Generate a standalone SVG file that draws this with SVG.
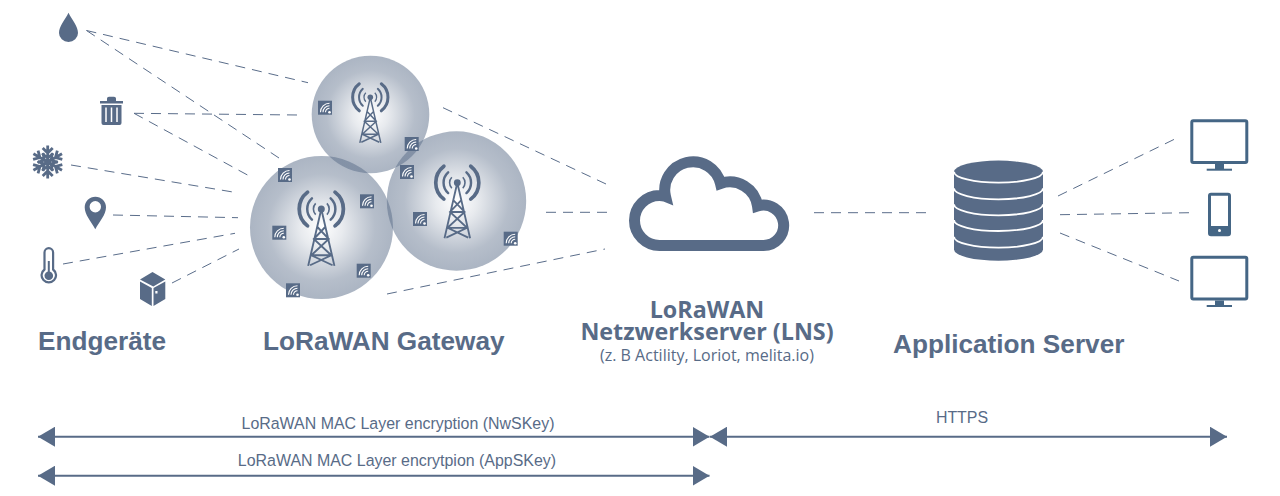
<svg xmlns="http://www.w3.org/2000/svg" xmlns:xlink="http://www.w3.org/1999/xlink" width="1280" height="496" viewBox="0 0 1280 496">
<style>
.c{fill:none;stroke:#5a6d8a;stroke-width:1;stroke-dasharray:10 7}
.i{fill:#586b87}
.m{fill:none;stroke:#456685;stroke-width:3;stroke-linejoin:round}
.m2{fill:#456685}
.h{font:bold 26.2px "Liberation Sans",Arial,sans-serif;fill:#586b87}
.l{font:bold 23.300px "Open Sans","Noto Sans",sans-serif;fill:#586b87;text-anchor:middle}
.s{font:16px "Open Sans","Noto Sans",sans-serif;fill:#586b87;text-anchor:middle}
.t{font:15.950px "Liberation Sans",Arial,sans-serif;fill:#586b87;text-anchor:middle}
.a{stroke:#586b87;stroke-width:2;fill:none}
.w{fill:none;stroke:#fff;stroke-width:1.1}
.gw{fill:url(#g)}
</style>
<defs>
<radialGradient id="g" cx="50%" cy="50%" r="50%">
<stop offset="0" stop-color="#586b87" stop-opacity="0"/>
<stop offset=".3" stop-color="#586b87" stop-opacity=".14"/>
<stop offset=".75" stop-color="#586b87" stop-opacity=".44"/>
<stop offset="1" stop-color="#586b87" stop-opacity=".5"/>
</radialGradient>
<symbol id="tower" overflow="visible">
<g fill="none" stroke="#586b87">
<path stroke-width="1.500" d="M0 0 L-10.500 45.500 M0 0 L10.500 45.500 M-3.500 14 L6 24 L-8 37 L9 45 M3.500 14 L-6 24 L8 37 L-9 45 M-6 24 H6 M-8 37 H8"/>
<path stroke-width="1.300" d="M-4.500 -4.500 A6.500 6.500 0 0 0 -4.500 4.500 M4.500 -4.500 A6.500 6.500 0 0 1 4.500 4.500"/>
<path stroke-width="2" stroke-linecap="round" d="M-7.500 -8.500 A11.500 11.500 0 0 0 -7.500 8.500 M7.500 -8.500 A11.500 11.500 0 0 1 7.500 8.500"/>
<path stroke-width="3" stroke-linecap="round" d="M-11 -13.500 A17 17 0 0 0 -11 13.500 M11 -13.500 A17 17 0 0 1 11 13.500"/>
<circle r="2.800" fill="#586b87" stroke="none"/>
</g>
</symbol>
<g id="wifi">
<rect x="-7" y="-7" width="14" height="14" fill="#586b87"/>
<circle cx="4.500" cy="4.500" r="1.300" fill="#fff"/>
<path class="w" d="M0.500 4.500 A4 4 0 0 1 4.500 0.500 M-2 4.500 A6.500 6.500 0 0 1 4.500 -2 M-4.500 4.500 A9 9 0 0 1 4.500 -4.500"/>
</g>
<marker id="ah" markerWidth="18" markerHeight="20" refX="17" refY="10" orient="auto-start-reverse" markerUnits="userSpaceOnUse">
<path d="M0 0 L17 10 L0 20 Z" fill="#586b87"/>
</marker>
</defs>

<g id="connectors">
<path class="c" d="M86.500 30.500 L308 82.700"/>
<path class="c" d="M86.500 30.500 L279 158"/>
<path class="c" d="M134 113.300 L298 115"/>
<path class="c" d="M134 113.300 L253 178"/>
<path class="c" d="M71 165 L237 192.700"/>
<path class="c" d="M113 215 L238 217.700"/>
<path class="c" d="M63 264 L235 233.300"/>
<path class="c" d="M172 283 L239 249"/>
<path class="c" d="M443 107.700 L606 184"/>
<path class="c" d="M546 212.300 L607 212.300"/>
<path class="c" d="M387 294 L605 249"/>
<path class="c" d="M814 212.700 L932 212.700"/>
<path class="c" d="M1058 196 L1179 137"/>
<path class="c" d="M1060 214.700 L1191 212.700"/>
<path class="c" d="M1060 233 L1179 281"/>
</g>

<g id="drop"><path class="i" d="M68.500 12.700 C72 20 78 26 78 33 A9.500 9 0 0 1 59 33 C59 26 65 20 68.500 12.700Z"/></g>
<g id="trash"><path class="i" d="M100 101 H107 V98.500 Q107 96.700 109 96.700 H114 Q116 96.700 116 98.500 V101 H123 V103.500 H100Z M101.500 105 H121.500 V123 Q121.500 125 119.500 125 H103.500 Q101.500 125 101.500 123Z"/><path d="M106 107.500 V122 M111.500 107.500 V122 M117 107.500 V122" stroke="#fff" stroke-width="1.500"/></g>
<g id="snowflake" fill="none" stroke="#586b87" stroke-width="2.800" transform="translate(47.700 162)">
<g id="arm"><path d="M0 0 V-16.500 M-5 -14 L0 -9 L5 -14 M-5.500 -8.500 L0 -4 L5.500 -8.500"/></g>
<use href="#arm" transform="rotate(60)"/><use href="#arm" transform="rotate(120)"/><use href="#arm" transform="rotate(180)"/><use href="#arm" transform="rotate(240)"/><use href="#arm" transform="rotate(300)"/>
<circle r="3.500" fill="#586b87" stroke="none"/>
</g>
<g id="pin"><path class="i" fill-rule="evenodd" d="M95.300 229.300 C91 221 84.700 215 84.700 207.300 A10.650 10.650 0 0 1 106 207.300 C106 215 99.600 221 95.300 229.300Z M101 206.700 A5.700 5.700 0 1 0 89.600 206.700 A5.700 5.700 0 1 0 101 206.700Z"/></g>
<g id="thermometer"><path fill="none" stroke="#586b87" stroke-width="2.200" d="M44.500 269.500 V252.500 A4.300 4.300 0 0 1 53.100 252.500 V269.500 A7.200 7.200 0 1 1 44.500 269.500Z"/><circle class="i" cx="48.800" cy="275.700" r="4.300"/><rect class="i" x="47.800" y="261" width="2" height="12"/></g>
<g id="box"><path class="i" d="M152.500 272 L165.300 279.500 L153.300 286.500 L140 279.500Z M140 281.500 L151.800 288 V306 L140 299Z M153.500 288 L165.300 281.500 V299 L153.500 306Z"/><rect x="155.300" y="291" width="2.200" height="2.500" fill="#fff"/></g>

<g id="gateway-top"><circle class="gw" cx="370.500" cy="114.500" r="58.800"/><use href="#tower" x="370.300" y="97.300"/></g>
<g id="gateway-right"><circle class="gw" cx="456.500" cy="201" r="69.700"/><use href="#tower" transform="translate(457.300 182.700) scale(1.22)"/></g>
<g id="gateway-left"><circle class="gw" cx="321.500" cy="227.500" r="71.500"/><use href="#tower" transform="translate(321.300 209) scale(1.25)"/></g>
<g id="wifi-squares">
<use href="#wifi" x="325" y="107.700"/><use href="#wifi" x="411.700" y="144"/>
<use href="#wifi" x="407" y="172"/><use href="#wifi" x="420" y="219"/><use href="#wifi" x="510.700" y="238.700"/>
<use href="#wifi" x="285" y="175"/><use href="#wifi" x="367" y="201.300"/><use href="#wifi" x="279.300" y="232.700"/><use href="#wifi" x="363.700" y="270.700"/><use href="#wifi" x="293" y="290.300"/>
</g>

<g id="cloud"><path fill="none" stroke="#586b87" stroke-width="11" d="M659.500 245.500 A25 25 0 0 1 659.500 195.500 Q663 195.500 665.500 196.500 A28 28 0 0 1 720.500 183.500 A28 28 0 0 1 757.500 206 A20.200 20.200 0 1 1 763 245.500Z"/></g>

<g id="database">
<path class="i" d="M954 172 A44.500 11.500 0 0 1 1043 172 V249.500 A44.500 11.200 0 0 1 954 249.500Z"/>
<path fill="none" stroke="#fff" stroke-width="1.800" d="M954 171.700 A44.500 11 0 0 0 1043 171.700 M954 188.300 A44.500 11 0 0 0 1043 188.300 M954 204.300 A44.500 11 0 0 0 1043 204.300 M954 220 A44.500 11 0 0 0 1043 220 M954 236.700 A44.500 11 0 0 0 1043 236.700"/>
</g>

<g id="monitor-top"><rect class="m" x="1191.800" y="120.800" width="55" height="41.700" rx="1.500"/><rect class="m2" x="1215" y="164" width="9" height="6"/><rect class="m2" x="1206.700" y="168.700" width="25.300" height="2"/></g>
<g id="phone"><rect class="m" x="1209.500" y="194.200" width="20" height="40.500" rx="1.500"/><rect class="m2" x="1209.500" y="226" width="20" height="9" rx="1"/><circle cx="1219.500" cy="230.500" r="1.500" fill="#fff"/></g>
<g id="monitor-bottom"><rect class="m" x="1191.800" y="257.200" width="55" height="41.700" rx="1.500"/><rect class="m2" x="1215" y="300.500" width="9" height="6"/><rect class="m2" x="1206.700" y="305" width="25.300" height="2"/></g>

<g id="labels">
<text class="h" x="38" y="350">Endgeräte</text>
<text class="h" x="263" y="350">LoRaWAN Gateway</text>
<text class="h" x="893" y="353">Application Server</text>
<text class="l" x="707" y="317.500">LoRaWAN</text>
<text class="l" x="707" y="340">Netzwerkserver (LNS)</text>
<text class="s" x="707" y="361">(z. B Actility, Loriot, melita.io)</text>
<text class="t" x="398" y="429">LoRaWAN MAC Layer encryption (NwSKey)</text>
<text class="t" x="397" y="466">LoRaWAN MAC Layer encrytpion (AppSKey)</text>
<text class="t" x="962" y="423">HTTPS</text>
</g>

<g id="arrows">
<line class="a" x1="38" y1="436.700" x2="709.500" y2="436.700" marker-start="url(#ah)" marker-end="url(#ah)"/>
<line class="a" x1="710" y1="436.700" x2="1227" y2="436.700" marker-start="url(#ah)" marker-end="url(#ah)"/>
<line class="a" x1="38" y1="475.700" x2="709.500" y2="475.700" marker-start="url(#ah)" marker-end="url(#ah)"/>
</g>
</svg>
